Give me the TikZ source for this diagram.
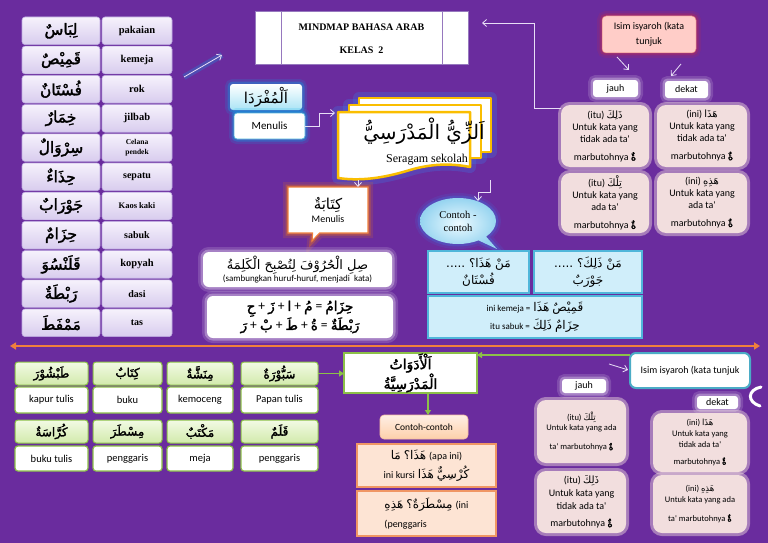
\documentclass[tikz,border=0pt]{standalone}
\usepackage{fontspec}
\setmainfont{Liberation Serif}
\newfontfamily\calib{Carlito}
\newfontfamily\arf[Script=Arabic]{DejaVu Sans}
\newfontfamily\arfb[Script=Arabic,FakeBold=2]{DejaVu Sans}
\TeXXeTstate=1
\usetikzlibrary{shapes.callouts,shapes.geometric,arrows.meta}
\newcommand\AR[1]{{\arf\beginR#1\endR}}
\newcommand\AW[1]{{\arf #1}}
\newcommand\AWB[1]{{\arfb #1}}
\newcommand\fsz[2]{\fontsize{#1}{#2}\selectfont}
\newcommand\q{\textquotesingle}
\newcommand\mybox[7]{\node[#1, minimum width={(#5)-(#3)}, minimum height={(#6)-(#4)}] (#2) at ({((#3)+(#5))/2},{((#4)+(#6))/2}) {#7};}
\definecolor{bg}{RGB}{106,44,158}
\definecolor{lavT}{RGB}{246,242,252}
\definecolor{lavB}{RGB}{216,204,238}
\definecolor{lavD}{RGB}{190,170,225}
\definecolor{gold}{RGB}{250,190,0}
\definecolor{orangeL}{RGB}{240,128,60}
\definecolor{greenB}{RGB}{140,192,72}
\definecolor{greenT}{RGB}{242,250,228}
\definecolor{greenBt}{RGB}{210,234,172}
\definecolor{pinkC}{RGB}{242,222,222}
\definecolor{cyanF}{RGB}{208,238,250}
\definecolor{cyanB}{RGB}{80,182,218}
\definecolor{peach}{RGB}{253,228,212}
\definecolor{peachB}{RGB}{240,150,100}
\definecolor{isimF}{RGB}{255,205,200}
\definecolor{isimG}{RGB}{200,40,70}
\definecolor{tealB}{RGB}{75,172,198}
\definecolor{wl}{RGB}{232,222,246}
\definecolor{glowB}{RGB}{60,120,230}
\tikzset{
 base/.style={inner sep=1pt, outer sep=0pt, align=center, text=black},
 glow/.style={preaction={draw=#1, line width=10pt, opacity=.15}, preaction={draw=#1, line width=5pt, opacity=.3}},
 voc/.style={base, rounded corners=3pt, top color=lavT, bottom color=lavB, draw=lavD, line width=.6pt},
 titlebox/.style={base, draw={rgb,255:red,150;green,120;blue,190}, fill=white, line width=1pt},
 titleline/.style={draw={rgb,255:red,150;green,120;blue,190}, line width=1pt},
 wline/.style={draw=wl, line width=.8pt, -{Straight Barb[length=4pt,width=7pt]}},
 gline/.style={draw=greenB, line width=1.6pt, -{Triangle[length=5pt,width=6pt]}},
 card/.style={draw=gold, line width=2.5pt, fill=white, line join=round},
 cardglow/.style={draw=glowB, line width=12pt, opacity=.3, line join=round},
 mufr/.style={base, rounded corners=3pt, top color=white, bottom color={rgb,255:red,170;green,228;blue,245}, glow=cyan},
 menul/.style={base, rounded corners=3pt, fill=white, draw=cyanB, line width=.8pt, glow=cyan},
 callbox/.style={base, fill=white, draw=orangeL, line width=1.2pt, glow=orange},
 wbox/.style={base, fill=white, rounded corners=6pt, glow=white},
 bubble/.style={base, inner color={rgb,255:red,236;green,250;blue,255}, outer color={rgb,255:red,150;green,212;blue,240}, glow=glowB},
 cyanbox/.style={base, fill=cyanF, draw=cyanB, line width=1.2pt},
 isimT/.style={base, rounded corners=4pt, fill=isimF, draw={rgb,255:red,230;green,120;blue,120}, line width=.5pt, glow=isimG},
 lbl/.style={base, fill=white, rounded corners=3pt, glow=white, font=\calib\fsz{10}{12}},
 pcard/.style={base, fill=pinkC, rounded corners=9pt, preaction={draw=pinkC, line width=6pt, opacity=.45}},
 ghead/.style={base, rounded corners=3pt, top color=greenT, bottom color=greenBt, draw=greenB, line width=1pt},
 gword/.style={base, rounded corners=3pt, fill=white, draw=greenB, line width=1.2pt},
 adaw/.style={base, fill=white, draw=greenB, line width=2pt},
 peachbox/.style={base, rounded corners=4pt, top color=white!40!peach, bottom color=peach!80!orange, draw=peachB!60, line width=.6pt},
 exbox/.style={base, fill=peach, draw=peachB, line width=1.2pt},
 isimB/.style={base, fill=white, draw=tealB, line width=2pt, rounded corners=6pt}
}
\begin{document}
\begin{tikzpicture}[x=1pt,y=-1pt]
\useasboundingbox (0,0) rectangle (768,543);
\fill[bg] (0,0) rectangle (768,543);

% vocabulary table
\foreach \a/\e/\s [count=\i from 0] in {لِبَاسٌ/pakaian/10.5, قَمِيْصٌ/kemeja/10.5, فُسْتَانٌ/rok/10.5, خِمَارٌ/jilbab/10.5, سِرْوَالٌ/{Celana\\pendek}/7.5, حِذَاءٌ/sepatu/10, جَوْرَابٌ/{Kaos kaki}/8.5, حِزَامٌ/sabuk/10, قَلَنْسُوَ/kopyah/10.5, رَبْطَةٌ/dasi/10, مَمْفَطَ/tas/10}
{
 \pgfmathsetmacro\ya{17+29.2*\i}
 \pgfmathsetmacro\yb{\ya+27.6}
 \mybox{voc, font=\fsz{15.5}{18}}{va\i}{22}{\ya}{100}{\yb}{\AWB{\a}}
 \mybox{voc, font=\fsz{\s}{9.5}\bfseries}{ve\i}{102}{\ya}{172}{\yb}{\e}
}

% title
\mybox{titlebox, font=\bfseries\fsz{10}{23}}{title}{255}{12}{468}{65}{MINDMAP BAHASA ARAB\\KELAS\ \ 2}
\draw[titleline] ([xshift=26pt]title.north west) -- ([xshift=26pt]title.south west);
\draw[titleline] ([xshift=-26pt]title.north east) -- ([xshift=-26pt]title.south east);

\coordinate (tA) at (184,77);
\coordinate (tB) at (222,55);
\draw[draw=cyan, line width=6pt, opacity=.25] (tA) -- (tB);
\draw[wline] (tA) -- (tB);

% mufrodat
\mybox{mufr, font=\fsz{15}{18}}{mufrad}{230}{84}{302}{110}{\AW{اَلْمُفْرَدَا}}
\mybox{menul, font=\calib\fsz{11}{13}}{menulis}{234}{113}{305}{139}{Menulis}

% stack of cards
\draw[cardglow] (359,98) rectangle (491,152);
\draw[cardglow] (349,105) rectangle (481,158);
\draw[cardglow] (338,112) -- (470,112) -- (470,167) .. controls (450,163) and (430,164) .. (410,170) .. controls (390,176) and (365,182) .. (338,178) -- cycle;
\draw[card] (359,98) rectangle (491,152);
\draw[card] (349,105) rectangle (481,158);
\draw[card] (338,112) -- (470,112) -- (470,167) .. controls (450,163) and (430,164) .. (410,170) .. controls (390,176) and (365,182) .. (338,178) -- cycle;
\node[base, font=\fsz{20}{22}] (zayy) at (424,131) {\AR{اَلزِّيُّ الْمَدْرَسِيُّ}};
\node[base, font=\fsz{12}{14}] (seragam) at (427,160) {Seragam sekolah};
\coordinate (stackIn) at (335,113);
\draw[wline] (menulis.east) -- (319,126) |- (stackIn);

% kitabah callout
\node[callbox, rectangle callout, callout absolute pointer={(312,241)}, minimum width=80, minimum height=46] (kitabah) at (328,210) {{\fsz{15}{18}\AW{كِتَابَةٌ}}\\[1pt]{\calib\fsz{10}{12}Menulis}};
\coordinate (stB) at (358,180);
\draw[wline] (stB) -- (kitabah.north -| stB);

% sil box
\mybox{wbox}{sil}{203}{252}{392}{287}{{\fsz{13}{16}\AR{صِلِ الْحُرُوْفَ لِتُصْبِحَ الْكَلِمَةُ}}\\{\calib\fsz{9}{11}(sambungkan huruf-huruf, menjadi\ \ kata)}}
\mybox{wbox, font=\calib\fsz{13.5}{19}}{eq}{207}{296}{393}{338}{\AWB{حِ} + \AWB{زَ} + \AWB{ا} + \AWB{مُ} = \AWB{حِزَامُ}\\\AWB{رَ} + \AWB{بْ} + \AWB{طَ} + \AWB{ةُ} = \AWB{رَبْطَةٌ}}

% contoh bubble
\node[bubble, ellipse callout, callout absolute pointer={(497,249)}, minimum width=76, minimum height=46, font=\fsz{10.5}{13}] (contoh) at (458,221) {Contoh -\\contoh};
\coordinate (stBR) at (490,180);
\coordinate (ctIn) at (478,201);
\draw[wline] (stBR) -- (490,192) -| (ctIn);

% cyan boxes
\mybox{cyanbox, font=\fsz{12}{17}}{q1}{428}{251}{529}{293}{\AR{مَنْ هَذَا؟ .....}\\\AW{فُسْتَانٌ}}
\mybox{cyanbox, font=\fsz{12}{17}}{q2}{534}{251}{642}{293}{\AR{مَنْ ذَلِكَ؟ .....}\\\AW{جَوْرَبٌ}}
\mybox{cyanbox, font=\fsz{12}{18}}{ans}{428}{296}{642}{338}{{\calib\fsz{9}{11}ini kemeja =} \AW{هَذَا} \AW{قَمِيْصٌ}\\{\calib\fsz{9}{11}itu sabuk =} \AW{ذَلِكَ} \AW{حِزَامٌ}}

% top-right isim isyaroh
\mybox{isimT, font=\calib\fsz{10}{15}}{isimT}{602}{16}{696}{53}{Isim isyaroh (kata\\tunjuk}
\mybox{lbl}{jauhT}{593}{80}{638}{97}{jauh}
\mybox{lbl}{dekatT}{665}{81}{708}{98}{dekat}
\coordinate (iA1) at (617,57); \coordinate (iA2) at (629,70);
\coordinate (iB1) at (681,64); \coordinate (iB2) at (671,76);
\draw[wline] (iA1) -- (iA2);
\draw[wline] (iB1) -- (iB2);
\mybox{pcard, font=\calib\fsz{10}{12}}{cTL}{561}{105}{649}{167}{(itu) \AW{ذَلِكَ}\\Untuk kata yang\\tidak ada ta\q\\[6pt]marbutohnya \AWB{ةٌ}}
\mybox{pcard, font=\calib\fsz{10}{12}}{cTR}{657}{105}{747}{167}{(ini) \AW{هَذَا}\\Untuk kata yang\\tidak ada ta\q\\[6pt]marbutohnya \AWB{ةٌ}}
\mybox{pcard, font=\calib\fsz{10}{12}}{cBL}{561}{173}{649}{233}{(itu) \AW{تِلْكَ}\\Untuk kata yang\\ada ta\q\\[6pt]marbutohnya \AWB{ةٌ}}
\mybox{pcard, font=\calib\fsz{10}{12}}{cBR}{657}{173}{747}{233}{(ini) \AW{هَذِهِ}\\Untuk kata yang\\ada ta\q\\[6pt]marbutohnya \AWB{ةٌ}}
\coordinate (titleR) at (482,23);
\draw[wline] (cTL.west |- 0,108) -| (534,23) -- (titleR);

% orange divider
\coordinate (oL) at (10,346);
\coordinate (oR) at (760,346);
\draw[draw=orangeL, line width=2pt, {Triangle[length=6pt,width=7pt]}-{Triangle[length=6pt,width=7pt]}] (oL) -- (oR);

% bottom: school tools
\foreach \x/\X/\a/\e [count=\j] in {15/88/طَبْشُوْرَ/kapur tulis, 93/162/كِتَابٌ/buku, 167/233/مِنَشَّةٌ/kemoceng, 241/318/سَبُّوْرَةٌ/Papan tulis}
{
 \mybox{ghead, font=\fsz{12}{15}}{ga\j}{\x}{362}{\X}{385}{\AWB{\a}}
 \mybox{gword, font=\calib\fsz{10.5}{12}}{wa\j}{\x}{387}{\X}{413}{\e}
}
\foreach \x/\X/\a/\e [count=\j] in {15/88/كُرَّاسَةٌ/buku tulis, 93/162/مِسْطَرَ/penggaris, 167/233/مَكْتَبٌ/meja, 241/318/قَلَمٌ/penggaris}
{
 \mybox{ghead, font=\fsz{12}{15}}{gb\j}{\x}{420}{\X}{443}{\AWB{\a}}
 \mybox{gword, font=\calib\fsz{10.5}{12}}{wb\j}{\x}{446}{\X}{471}{\e}
}

\mybox{adaw, font=\fsz{14}{18}}{adawat}{344}{353}{477}{393}{\AWB{اَلْأَدَوَاتُ}\\\AWB{الْمَدْرَسِيَّةُ}}
\draw[gline] (ga4.east) -- (adawat.west |- ga4.east);
\mybox{isimB, font=\calib\fsz{10}{12}}{isimB}{630}{353}{750}{388}{Isim isyaroh (kata tunjuk}
\draw[gline] (isimB.west |- 0,355) -- (adawat.east |- 0,355);
\mybox{peachbox, font=\calib\fsz{9.5}{11}}{contohB}{380}{415}{468}{439}{Contoh-contoh}
\draw[gline] (adawat.south -| 428,0) -- (contohB.north -| 428,0);
\mybox{exbox, font=\fsz{12}{19}}{ex1}{357}{444}{496}{487}{\AW{مَا} \AW{هَذَا؟} {\calib\fsz{10}{12}(apa ini)}\\{\calib\fsz{10}{12}ini kursi} \AW{هَذَا} \AW{كُرْسِيٌّ}}
\mybox{exbox, font=\fsz{12}{19}, align=left}{ex2}{357}{491}{496}{536}{\AW{هَذِهِ} \AW{مِسْطَرَةٌ؟} {\calib\fsz{10}{12}(ini}\\{\calib\fsz{10}{12}(penggaris}}

% bottom right isim
\coordinate (iaS) at (609,364);
\draw[wline, shorten >=2pt] (iaS) -- (isimB.west);
\coordinate (cA) at (761,387);
\coordinate (cB) at (760,406);
\draw[white, line width=3pt, line cap=round] (cA) .. controls (747,390) and (747,402) .. (cB);
\mybox{lbl}{jauhB}{562}{379}{606}{393}{jauh}
\mybox{lbl}{dekatB}{697}{396}{738}{409}{dekat}
\mybox{pcard, font=\calib\fsz{8.5}{10}}{pBL1}{537}{400}{626}{463}{(itu) \AW{تِلْكَ}\\Untuk kata yang ada\\[9pt]ta\q{} marbutohnya \AWB{ةٌ}}
\mybox{pcard, font=\calib\fsz{8.5}{11}}{pBR1}{653}{413}{747}{472}{(ini) \AW{هَذَا}\\Untuk kata yang\\tidak ada ta\q\\[6pt]marbutohnya \AWB{ةٌ}}
\mybox{pcard, font=\calib\fsz{10}{13}}{pBL2}{537}{471}{626}{533}{(itu) \AW{ذَلِكَ}\\Untuk kata yang\\tidak ada ta\q\\[4pt]marbutohnya \AWB{ةٌ}}
\mybox{pcard, font=\calib\fsz{8.5}{11}}{pBR2}{653}{475}{747}{533}{(ini) \AW{هَذِهِ}\\Untuk kata yang ada\\[8pt]ta\q{} marbutohnya \AWB{ةٌ}}
\end{tikzpicture}
\end{document}
